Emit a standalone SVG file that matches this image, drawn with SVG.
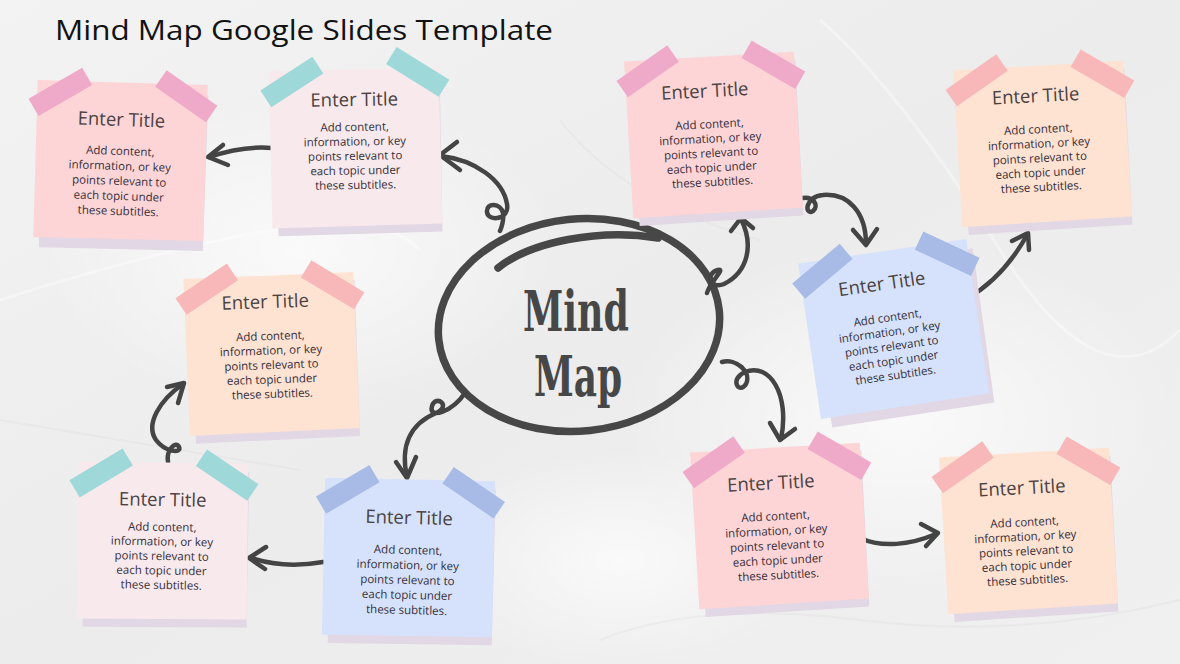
<svg xmlns="http://www.w3.org/2000/svg" width="1180" height="664" viewBox="0 0 1180 664">
<defs>
<linearGradient id="bg" x1="0" y1="0" x2="1" y2="1">
<stop offset="0" stop-color="#f3f3f3"/>
<stop offset="0.5" stop-color="#ececec"/>
<stop offset="1" stop-color="#f0f0f0"/>
</linearGradient>
<radialGradient id="patch" cx="0.5" cy="0.5" r="0.5">
<stop offset="0" stop-color="#ffffff" stop-opacity="0.7"/>
<stop offset="1" stop-color="#ffffff" stop-opacity="0"/>
</radialGradient>
<path id="shadow" d="M-80,-66 L86,-70 L86,86 L-78,88 Z"/>
<path id="body" d="M-85,-77 L85,-78 L86,78 L-84,80 Z"/>
<rect id="tapeL" x="-31" y="-10" width="62" height="20" transform="translate(-62,-66) rotate(-32)"/>
<rect id="tapeR" x="-31" y="-10" width="62" height="20" transform="translate(64,-66) rotate(33)"/>
</defs>
<style>
.sh{fill:#e2d7e4}
.pink{fill:#fdd5d6}.tpink{fill:#f0aac9}
.lpink{fill:#f8e9ec}.tteal{fill:#9ed8d9}
.peach{fill:#fee2d2}.tsal{fill:#f8b8b9}
.blue{fill:#d6e2fb}.tblue{fill:#a8bbe6}
.tt{font-family:"Open Sans","Noto Sans",sans-serif;font-size:18.5px;fill:#4b4242;text-anchor:middle}
.bt{font-family:"Open Sans","Noto Sans",sans-serif;font-size:11.5px;font-weight:500;fill:#342e3a;text-anchor:middle}
.c{fill:none;stroke:#444444;stroke-width:4.5;stroke-linecap:round;stroke-linejoin:round}
.el{fill:none;stroke:#474747;stroke-width:7.5;stroke-linecap:round}
.crease{fill:none;stroke:#ffffff;stroke-width:3;opacity:0.35}
.crease2{fill:none;stroke:#d9d9d9;stroke-width:2;opacity:0.3}
.mm{font-family:"DejaVu Serif Condensed","DejaVu Serif",serif;font-weight:bold;font-size:56px;fill:#474747;text-anchor:middle}
</style>
<rect width="1180" height="664" fill="url(#bg)"/>
<g id="paper">
<ellipse cx="300" cy="250" rx="260" ry="160" fill="url(#patch)"/>
<ellipse cx="900" cy="420" rx="280" ry="180" fill="url(#patch)"/>
<ellipse cx="620" cy="560" rx="200" ry="110" fill="url(#patch)"/>
<path class="crease" d="M0,300 Q140,255 260,232 T420,250"/>
<path class="crease2" d="M600,640 Q700,600 860,620 T1180,600"/>
<path class="crease" d="M820,20 Q900,90 1000,250 T1180,330"/>
<path class="crease2" d="M0,420 Q120,440 300,470"/>
<path class="crease2" d="M560,120 Q620,200 760,240"/>
</g>
<text x="55" y="40" font-family="'Open Sans','Noto Sans',sans-serif" font-size="27" fill="#121212" textLength="498" lengthAdjust="spacingAndGlyphs">Mind Map Google Slides Template</text>

<g id="center">
<ellipse class="el" cx="579" cy="325" rx="141" ry="106" transform="rotate(-6 579 325)"/>
<path class="el" d="M498,268 C530,242 600,228 658,238"/>
<text class="mm" x="576" y="331" textLength="106" lengthAdjust="spacingAndGlyphs">Mind</text>
<text class="mm" x="578" y="396" textLength="88" lengthAdjust="spacingAndGlyphs">Map</text>
</g>

<g id="connectors">
<path class="c" d="M272,148 C250,146 230,150 209,157"/>
<path class="c" d="M223,145 L208,157 L228,165"/>
<path class="c" d="M441,156 C475,160 503,180 507,204 C510,220 488,222 487,212 C486,202 501,203 503,213 C504,220 502,226 500,231"/>
<path class="c" d="M457,142 L440,155 L460,170"/>
<path class="c" d="M707,293 C710,282 726,268 718,270 C705,273 710,290 724,284 C748,272 754,245 741,219"/>
<path class="c" d="M731,231 L741,218 L753,228"/>
<path class="c" d="M803,198 C812,196 820,205 813,211 C804,216 805,196 823,195 C848,193 866,212 866,244"/>
<path class="c" d="M853,230 L866,245 L877,229"/>
<path class="c" d="M968,298 C992,284 1012,262 1027,235"/>
<path class="c" d="M1012,241 L1028,233 L1029,250"/>
<path class="c" d="M722,362 C736,358 752,372 746,384 C739,395 729,379 745,372 C770,362 790,395 781,439"/>
<path class="c" d="M770,423 L780,440 L795,429"/>
<path class="c" d="M860,538 C882,548 910,545 936,534"/>
<path class="c" d="M921,524 L938,533 L926,546"/>
<path class="c" d="M465,393 C452,412 428,420 432,406 C436,394 452,406 436,413 C410,424 400,446 407,477"/>
<path class="c" d="M396,462 L407,478 L416,457"/>
<path class="c" d="M323,562 C300,566 275,566 251,558"/>
<path class="c" d="M266,547 L249,558 L265,569"/>
<path class="c" d="M168,462 C166,450 176,440 179,447 C182,454 165,452 156,440 C145,424 160,400 183,384"/>
<path class="c" d="M167,387 L184,383 L178,403"/>
</g>

<g id="note-1" transform="translate(120,160) rotate(2)">
<use href="#shadow" class="sh" transform="translate(0,2)"/>
<use href="#body" class="pink"/>
<use href="#tapeL" class="tpink"/><use href="#tapeR" class="tpink"/>
<text class="tt" y="-34">Enter Title</text>
<text class="bt" y="-5"><tspan x="0">Add content,</tspan><tspan x="0" dy="15">information, or key</tspan><tspan x="0" dy="15">points relevant to</tspan><tspan x="0" dy="15">each topic under</tspan><tspan x="0" dy="15">these subtitles.</tspan></text>
</g>

<g id="note-2" transform="translate(355,147) rotate(-1)">
<use href="#shadow" class="sh"/>
<use href="#body" class="lpink"/>
<use href="#tapeL" class="tteal"/><use href="#tapeR" class="tteal" transform="translate(0,-8)"/>
<text class="tt" y="-41">Enter Title</text>
<text class="bt" y="-16"><tspan x="0">Add content,</tspan><tspan x="0" dy="14.5">information, or key</tspan><tspan x="0" dy="14.5">points relevant to</tspan><tspan x="0" dy="14.5">each topic under</tspan><tspan x="0" dy="14.5">these subtitles.</tspan></text>
</g>

<g id="note-3" transform="translate(713,134) rotate(-3)">
<use href="#shadow" class="sh"/>
<use href="#body" class="pink"/>
<use href="#tapeL" class="tpink"/><use href="#tapeR" class="tpink"/>
<text class="tt" y="-37" x="-6">Enter Title</text>
<text class="bt" y="-6"><tspan x="-3">Add content,</tspan><tspan x="-3" dy="14.5">information, or key</tspan><tspan x="-3" dy="14.5">points relevant to</tspan><tspan x="-3" dy="14.5">each topic under</tspan><tspan x="-3" dy="14.5">these subtitles.</tspan></text>
</g>

<g id="note-4" transform="translate(1042,143) rotate(-3)">
<use href="#shadow" class="sh"/>
<use href="#body" class="peach"/>
<use href="#tapeL" class="tsal"/><use href="#tapeR" class="tsal"/>
<text class="tt" y="-41" x="-4">Enter Title</text>
<text class="bt" y="-10"><tspan x="-3">Add content,</tspan><tspan x="-3" dy="14.5">information, or key</tspan><tspan x="-3" dy="14.5">points relevant to</tspan><tspan x="-3" dy="14.5">each topic under</tspan><tspan x="-3" dy="14.5">these subtitles.</tspan></text>
</g>

<g id="note-5" transform="translate(271,353) rotate(-2)">
<use href="#shadow" class="sh"/>
<use href="#body" class="peach"/>
<use href="#tapeL" class="tsal"/><use href="#tapeR" class="tsal"/>
<text class="tt" y="-45" x="-4">Enter Title</text>
<text class="bt" y="-13"><tspan x="0">Add content,</tspan><tspan x="0" dy="14.5">information, or key</tspan><tspan x="0" dy="14.5">points relevant to</tspan><tspan x="0" dy="14.5">each topic under</tspan><tspan x="0" dy="14.5">these subtitles.</tspan></text>
</g>

<g id="note-6" transform="translate(893,328) rotate(-8)">
<use href="#shadow" class="sh" transform="translate(4,2)"/>
<use href="#body" class="blue"/>
<use href="#tapeL" class="tblue"/><use href="#tapeR" class="tblue"/>
<text class="tt" y="-39" x="-5">Enter Title</text>
<text class="bt" y="-7"><tspan x="-4">Add content,</tspan><tspan x="-4" dy="14.5">information, or key</tspan><tspan x="-4" dy="14.5">points relevant to</tspan><tspan x="-4" dy="14.5">each topic under</tspan><tspan x="-4" dy="14.5">these subtitles.</tspan></text>
</g>

<g id="note-7" transform="translate(162,540) rotate(1)">
<use href="#shadow" class="sh"/>
<use href="#body" class="lpink"/>
<use href="#tapeL" class="tteal"/><use href="#tapeR" class="tteal"/>
<text class="tt" y="-34">Enter Title</text>
<text class="bt" y="-9"><tspan x="0">Add content,</tspan><tspan x="0" dy="14.5">information, or key</tspan><tspan x="0" dy="14.5">points relevant to</tspan><tspan x="0" dy="14.5">each topic under</tspan><tspan x="0" dy="14.5">these subtitles.</tspan></text>
</g>

<g id="note-8" transform="translate(408,557) rotate(1.5)">
<use href="#shadow" class="sh"/>
<use href="#body" class="blue"/>
<use href="#tapeL" class="tblue"/><use href="#tapeR" class="tblue"/>
<text class="tt" y="-33">Enter Title</text>
<text class="bt" y="-3"><tspan x="0">Add content,</tspan><tspan x="0" dy="15">information, or key</tspan><tspan x="0" dy="15">points relevant to</tspan><tspan x="0" dy="15">each topic under</tspan><tspan x="0" dy="15">these subtitles.</tspan></text>
</g>

<g id="note-9" transform="translate(779,525) rotate(-3)">
<use href="#shadow" class="sh"/>
<use href="#body" class="pink"/>
<use href="#tapeL" class="tpink"/><use href="#tapeR" class="tpink"/>
<text class="tt" y="-36" x="-6">Enter Title</text>
<text class="bt" y="-5"><tspan x="-3">Add content,</tspan><tspan x="-3" dy="14.75">information, or key</tspan><tspan x="-3" dy="14.75">points relevant to</tspan><tspan x="-3" dy="14.75">each topic under</tspan><tspan x="-3" dy="14.75">these subtitles.</tspan></text>
</g>

<g id="note-10" transform="translate(1028,530) rotate(-3)">
<use href="#shadow" class="sh"/>
<use href="#body" class="peach"/>
<use href="#tapeL" class="tsal"/><use href="#tapeR" class="tsal"/>
<text class="tt" y="-36" x="-4">Enter Title</text>
<text class="bt" y="-4"><tspan x="-3">Add content,</tspan><tspan x="-3" dy="14.5">information, or key</tspan><tspan x="-3" dy="14.5">points relevant to</tspan><tspan x="-3" dy="14.5">each topic under</tspan><tspan x="-3" dy="14.5">these subtitles.</tspan></text>
</g>
</svg>
